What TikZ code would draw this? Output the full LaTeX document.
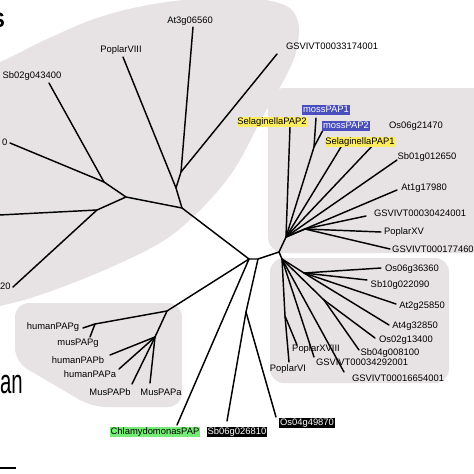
\documentclass[tikz,border=0pt]{standalone}
\usepackage{fontspec}
\setmainfont{Liberation Sans}
\definecolor{fundo}{RGB}{231,227,228}
\definecolor{amarelo}{RGB}{253,236,96}
\definecolor{azul}{RGB}{72,78,190}
\definecolor{verde}{RGB}{118,236,118}
\begin{document}
\begin{tikzpicture}[
  x=1pt, y=-1pt,
  font=\fontsize{9.4}{10}\selectfont,
  grupo/.style={fill=fundo},
  ramo/.style={line width=1.45pt, line cap=round, line join=round},
  rot/.style={inner sep=0.8pt, text height=7pt, text depth=2pt},
  amar/.style={rot, fill=amarelo},
  azulbox/.style={rot, fill=azul, text=white},
  preto/.style={rot, fill=black, text=white},
  verdebox/.style={rot, fill=verde}
]
  \useasboundingbox (0,0) rectangle (474,474);
  \clip (0,0) rectangle (474,474);
  % fundos dos grupos
  \fill[grupo] plot[smooth cycle, tension=0.6] coordinates {(-30,70) (0,62) (45,40) (100,17) (160,3) (230,-3) (282,4) (298,22) (296,52) (284,80) (262,118) (240,160) (222,186) (194,216) (160,243) (100,272) (40,295) (0,306) (-30,312)};
  \fill[grupo, rounded corners=16pt] (268,88) rectangle (520,253);
  \fill[grupo, rounded corners=14pt] (270,258) rectangle (449,383);
  \fill[grupo, rounded corners=14pt] (15,303) -- (182,303) -- (182,407) -- (92,407) -- (15,362) -- cycle;
  % nós internos
  \coordinate (nA) at (181,172);
  \coordinate (nB) at (176,188);
  \coordinate (nC) at (182,208);
  \coordinate (nD) at (126,197);
  \coordinate (nE) at (104,182);
  \coordinate (nF) at (97,210);
  \coordinate (n1) at (249,259);
  \coordinate (n2) at (258,259);
  \coordinate (n3) at (279,252);
  \coordinate (n4) at (246,312);
  \coordinate (h0) at (167,311);
  \coordinate (h1) at (95,324);
  \coordinate (h2) at (155,337);
  \coordinate (c1) at (286,237);
  \coordinate (c1m) at (314,147);
  \coordinate (c1s) at (305,229);
  \coordinate (c2) at (282,259);
  \coordinate (c2a) at (304,273);
  \coordinate (c2b) at (324,300);
  \coordinate (c2c) at (285,316);
  % pontas dos ramos
  \coordinate (t-at3) at (193,27);
  \coordinate (t-gsv1) at (277,54);
  \coordinate (t-pop8) at (123,57);
  \coordinate (t-sb02) at (49,83);
  \coordinate (t-x0) at (10,143);
  \coordinate (t-xl) at (-20,216);
  \coordinate (t-x20) at (13,287);
  \coordinate (t-sel2) at (290,127);
  \coordinate (t-moss1) at (316,118);
  \coordinate (t-moss2) at (323,130);
  \coordinate (t-sel1) at (341,147);
  \coordinate (t-os06a) at (375,143);
  \coordinate (t-sb01) at (397,160);
  \coordinate (t-at1) at (397,190);
  \coordinate (t-gsv3) at (366,216);
  \coordinate (t-pop15) at (381,232);
  \coordinate (t-gsv17) at (390,249);
  \coordinate (t-os06b) at (381,268);
  \coordinate (t-sb10) at (367,280);
  \coordinate (t-at2) at (396,304);
  \coordinate (t-at4) at (389,325);
  \coordinate (t-os02) at (375,338);
  \coordinate (t-sb04) at (359,350);
  \coordinate (t-gsv34) at (314,357);
  \coordinate (t-gsv16) at (344,372);
  \coordinate (t-pop18) at (297,345);
  \coordinate (t-pop6) at (289,362);
  \coordinate (t-hg) at (83,328);
  \coordinate (t-mg) at (90,337);
  \coordinate (t-hb) at (110,355);
  \coordinate (t-ha) at (119,369);
  \coordinate (t-mb) at (132,384);
  \coordinate (t-ma) at (150,383);
  \coordinate (t-chl) at (177,425);
  \coordinate (t-sb06) at (227,421);
  \coordinate (t-os04) at (276,417);
  % ramos
  \draw[ramo] (nC) -- (nB) -- (nA) -- (t-at3);
  \draw[ramo] (nA) -- (t-gsv1);
  \draw[ramo] (nB) -- (t-pop8);
  \draw[ramo] (nC) -- (nD) -- (nE) -- (t-sb02);
  \draw[ramo] (nE) -- (t-x0);
  \draw[ramo] (nD) -- (nF) -- (t-xl);
  \draw[ramo] (nF) -- (t-x20);
  \draw[ramo] (nC) -- (n1) -- (n2) -- (n3);
  \draw[ramo] (n1) -- (h0) -- (h1) -- (t-hg);
  \draw[ramo] (h1) -- (t-mg);
  \draw[ramo] (h0) -- (h2) -- (t-hb);
  \draw[ramo] (h2) -- (t-ha);
  \draw[ramo] (h2) -- (t-mb);
  \draw[ramo] (h2) -- (t-ma);
  \draw[ramo] (n1) -- (t-chl);
  \draw[ramo] (n2) -- (n4) -- (t-sb06);
  \draw[ramo] (n4) -- (t-os04);
  \draw[ramo] (n3) -- (c1) -- (t-sel2);
  \draw[ramo] (c1) -- (c1m) -- (t-moss1);
  \draw[ramo] (c1m) -- (t-moss2);
  \draw[ramo] (c1) -- (t-sel1);
  \draw[ramo] (c1) -- (t-os06a);
  \draw[ramo] (c1) -- (t-sb01);
  \draw[ramo] (c1) -- (t-at1);
  \draw[ramo] (c1) -- (c1s) -- (t-gsv3);
  \draw[ramo] (c1s) -- (t-pop15);
  \draw[ramo] (c1s) -- (t-gsv17);
  \draw[ramo] (n3) -- (c2) -- (c2a) -- (t-os06b);
  \draw[ramo] (c2a) -- (t-sb10);
  \draw[ramo] (c2a) -- (t-at2);
  \draw[ramo] (c2a) -- (t-at4);
  \draw[ramo] (c2) -- (c2b) -- (t-os02);
  \draw[ramo] (c2b) -- (t-sb04);
  \draw[ramo] (c2) -- (t-gsv34);
  \draw[ramo] (c2) -- (t-gsv16);
  \draw[ramo] (c2) -- (c2c) -- (t-pop18);
  \draw[ramo] (c2c) -- (t-pop6);
  % rótulos
  \node[rot] (l-at3) at (190,21) {At3g06560};
  \node[rot] (l-gsv1) at (332,47) {GSVIVT00033174001};
  \node[rot] (l-pop8) at (121,50) {PoplarVIII};
  \node[rot] (l-sb02) at (32,76) {Sb02g043400};
  \node[rot, anchor=west, inner sep=0pt] (l-x0) at (2,143) {0};
  \node[rot, anchor=west, inner sep=0pt] (l-x20) at (0,287) {20};
  \node[amar] (l-sel2) at (272,122) {SelaginellaPAP2};
  \node[azulbox] (l-moss1) at (326,110) {mossPAP1};
  \node[azulbox] (l-moss2) at (346,126) {mossPAP2};
  \node[amar] (l-sel1) at (360,142) {SelaginellaPAP1};
  \node[rot] (l-os06a) at (416,126) {Os06g21470};
  \node[rot] (l-sb01) at (427,157) {Sb01g012650};
  \node[rot] (l-at1) at (424,188) {At1g17980};
  \node[rot] (l-gsv3) at (420,214) {GSVIVT00030424001};
  \node[rot] (l-pop15) at (404,232) {PoplarXV};
  \node[rot, anchor=west, inner sep=0pt] (l-gsv17) at (392,250) {GSVIVT000177460};
  \node[rot] (l-os06b) at (412,269) {Os06g36360};
  \node[rot] (l-sb10) at (400,285) {Sb10g022090};
  \node[rot] (l-at2) at (422,306) {At2g25850};
  \node[rot] (l-at4) at (415,326) {At4g32850};
  \node[rot] (l-os02) at (406,340) {Os02g13400};
  \node[rot] (l-sb04) at (390,353) {Sb04g008100};
  \node[rot] (l-gsv34) at (362,363) {GSVIVT00034292001};
  \node[rot] (l-gsv16) at (398,379) {GSVIVT00016654001};
  \node[rot] (l-pop18) at (316,349) {PoplarXVIII};
  \node[rot] (l-pop6) at (288,369) {PoplarVI};
  \node[rot] (l-hg) at (53,327) {humanPAPg};
  \node[rot] (l-mg) at (78,343) {musPAPg};
  \node[rot] (l-hb) at (78,361) {humanPAPb};
  \node[rot] (l-ha) at (90,375) {humanPAPa};
  \node[rot] (l-mb) at (110,393) {MusPAPb};
  \node[rot] (l-ma) at (161,393) {MusPAPa};
  \node[verdebox] (l-chl) at (155,432) {ChlamydomonasPAP};
  \node[preto] (l-sb06) at (237,432) {Sb06g026810};
  \node[preto] (l-os04) at (307,423) {Os04g49870};
  % restos cortados da figura
  \node[inner sep=0, anchor=base east, font=\fontsize{21}{21}\selectfont\bfseries] (letra) at (5,27) {S};
  \node[inner sep=0, anchor=base west, xscale=0.6, font=\fontsize{34}{34}\selectfont] (nome) at (0,393) {an};
  \coordinate (e0) at (-5,468);
  \coordinate (e1) at (16,468);
  \draw[line width=1.3pt] (e0) -- (e1);
\end{tikzpicture}
\end{document}
